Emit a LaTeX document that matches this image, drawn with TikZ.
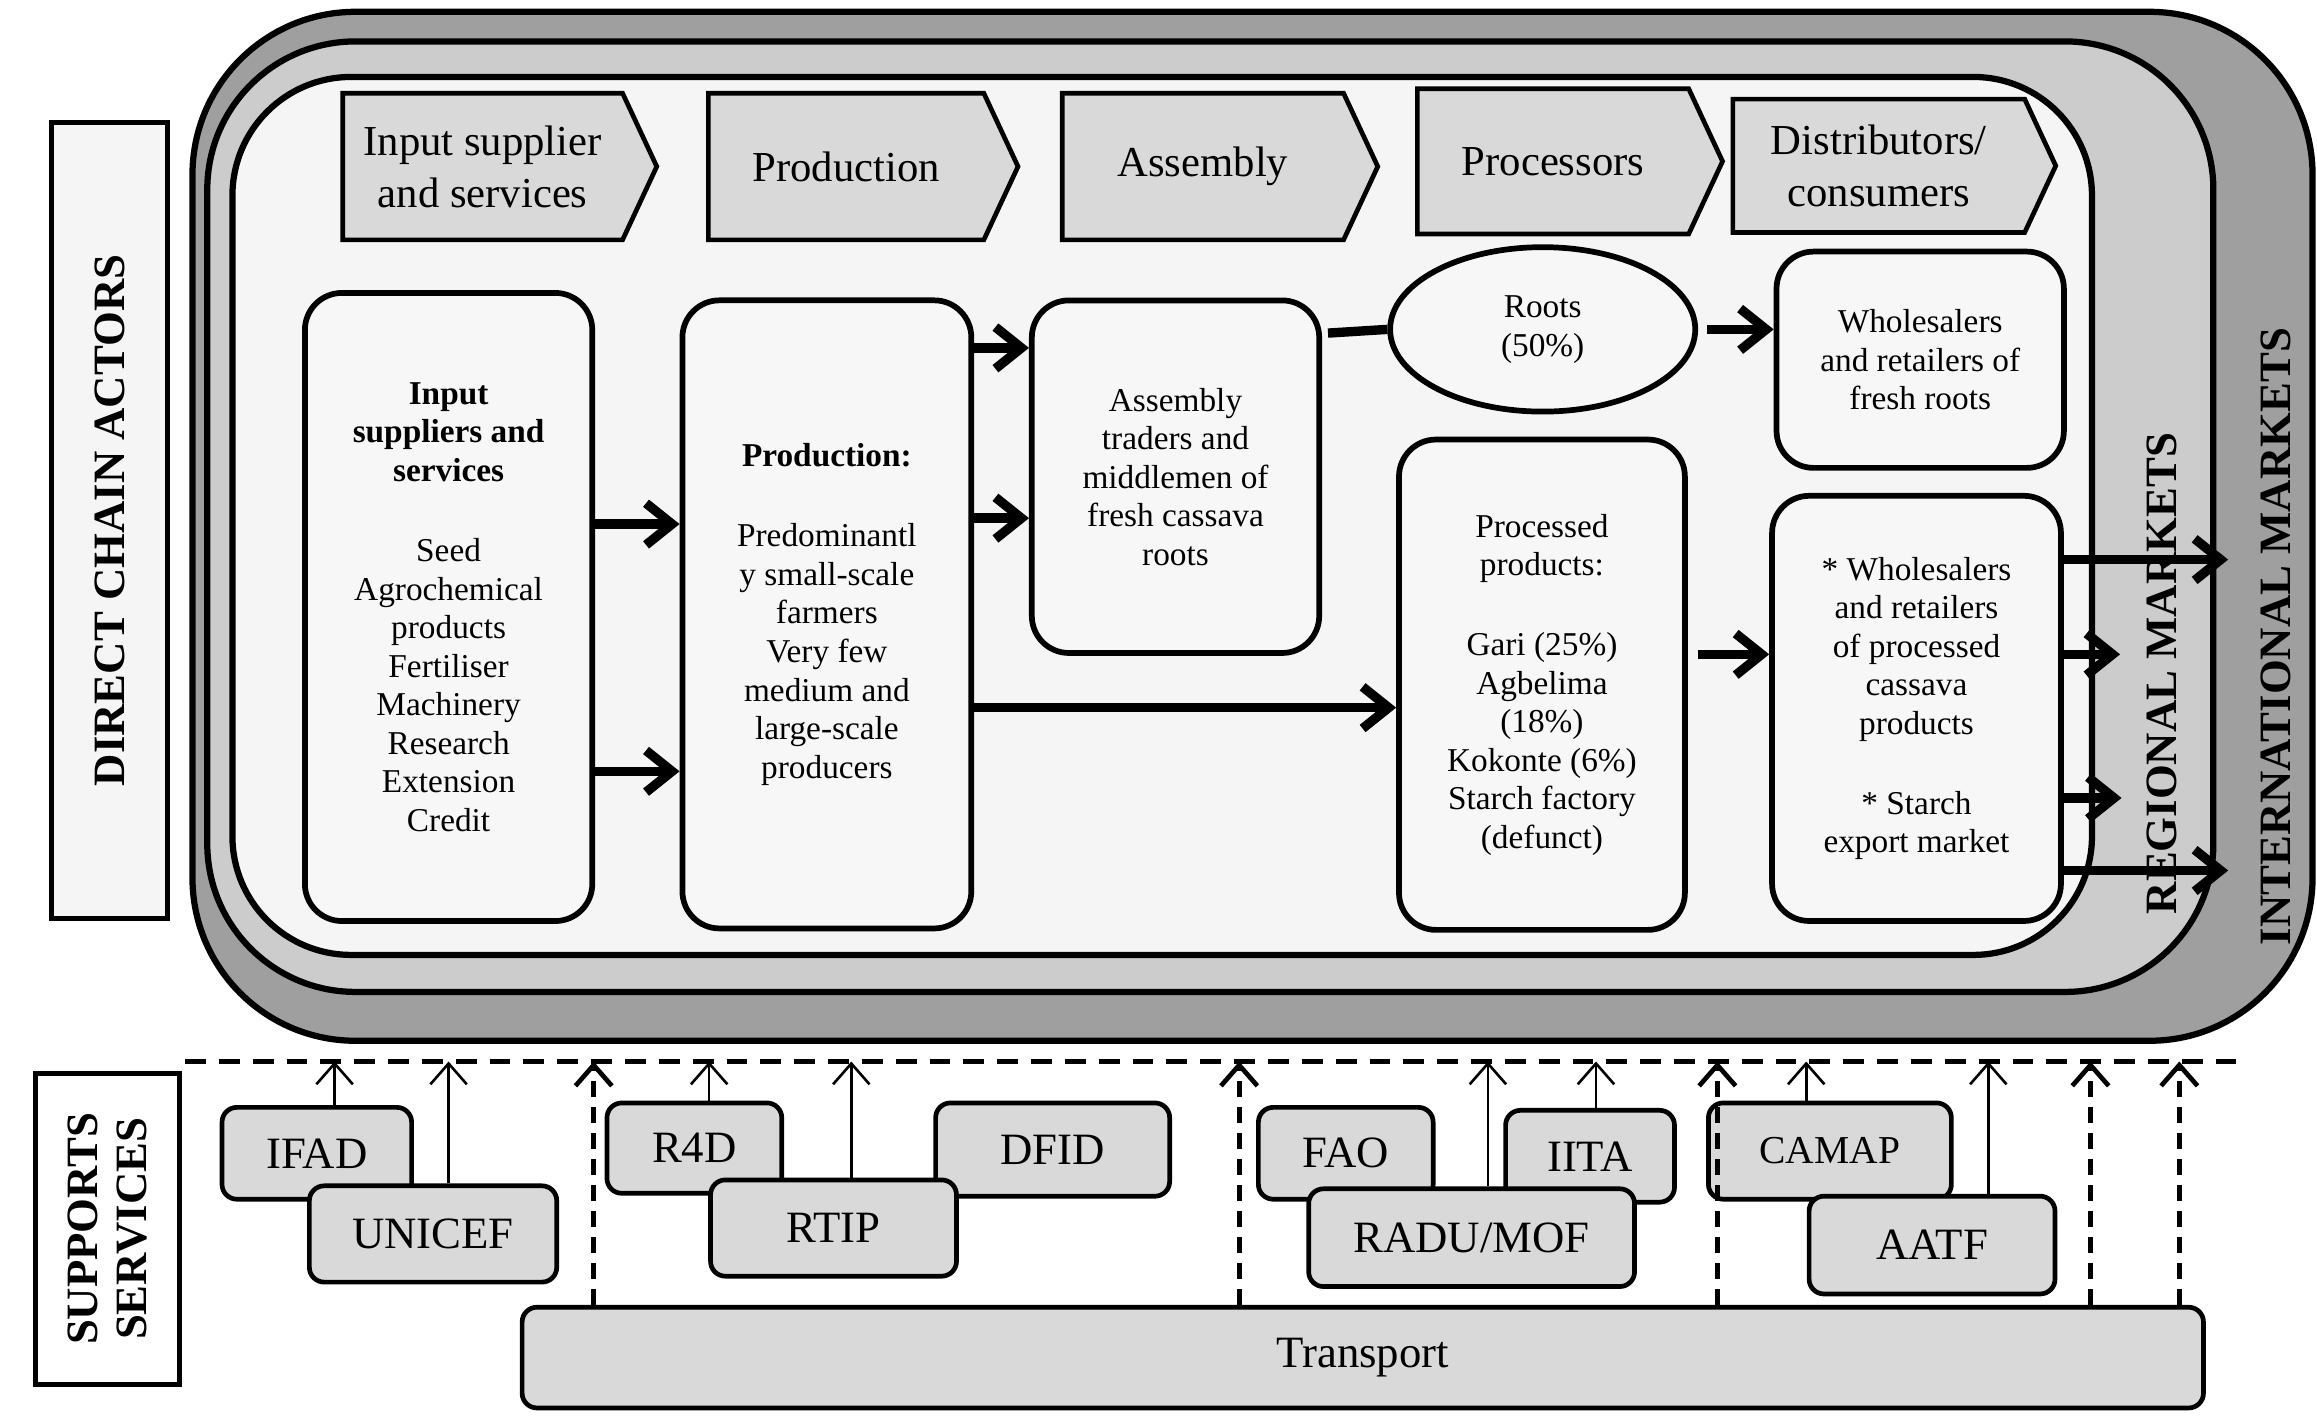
\documentclass[tikz,border=0pt]{standalone}
\usepackage{fontspec}
\setmainfont{Liberation Serif}
\usetikzlibrary{shapes.symbols,shapes.geometric,arrows.meta}
\begin{document}
\begin{tikzpicture}[x=0.01cm,y=-0.01cm,
  box/.style={draw,line width=1.1pt,rounded corners=0.25cm,fill=gray!6,align=center,font=\fontsize{6.4}{7.4}\selectfont,inner sep=1pt},
  chev/.style={draw,line width=0.9pt,signal,signal to=east,signal pointer angle=130,fill=gray!30,align=center,font=\fontsize{8.2}{10}\selectfont,inner sep=1pt},
  sbox/.style={draw,line width=0.9pt,rounded corners=0.1cm,fill=gray!30,font=\fontsize{8.6}{10}\selectfont},
  flow/.style={-{Straight Barb[length=5pt,width=8pt]},line width=1.8pt},
  sup/.style={-{Straight Barb[length=4pt,width=7pt]},line width=0.5pt},
  dsup/.style={-{Straight Barb[length=4pt,width=7pt]},line width=0.9pt,dash pattern=on 3pt off 2pt},
  vlab/.style={rotate=90,font=\bfseries\fontsize{8.6}{9.5}\selectfont,align=center}]
\useasboundingbox (0,0) rectangle (1565,962);
% market layers
\draw[line width=1.2pt,fill=gray!75,rounded corners=1.1cm] (130,8) rectangle (1562,703);
\draw[line width=1.2pt,fill=gray!40,rounded corners=1cm] (140,28) rectangle (1495,670);
\draw[line width=1.2pt,fill=gray!8,rounded corners=0.8cm] (157,52) rectangle (1413,645);
\node[draw,line width=1pt,fill=gray!8,minimum width=0.78cm,minimum height=5.37cm] (dca) at (74,351.5) {};
\node[vlab] at (dca) {DIRECT CHAIN ACTORS};
\node[vlab] (reg) at (1460,455) {REGIONAL MARKETS};
\node[vlab] (int) at (1537,430) {INTERNATIONAL MARKETS};
% stages
\node[chev,minimum width=2.12cm,minimum height=0.99cm] (c1) at (326,112.5) {Input supplier\\and services};
\node[chev,minimum width=2.09cm,minimum height=0.99cm] (c2) at (571.5,112.5) {Production};
\node[chev,minimum width=2.13cm,minimum height=0.99cm] (c3) at (812.5,112.5) {Assembly};
\node[chev,minimum width=2.06cm,minimum height=0.98cm] (c4) at (1049,109) {Processors};
\node[chev,minimum width=2.18cm,minimum height=0.9cm] (c5) at (1269,112) {Distributors/\\consumers};
% actors
\node[box,minimum width=1.94cm,minimum height=4.24cm] (A) at (303,410) {\textbf{Input}\\\textbf{suppliers and}\\\textbf{services}\\[8pt]Seed\\Agrochemical\\products\\Fertiliser\\Machinery\\Research\\Extension\\Credit};
\node[box,minimum width=1.95cm,minimum height=4.24cm] (B) at (558.5,415) {\textbf{Production:}\\[8pt]Predominantl\\y small-scale\\farmers\\Very few\\medium and\\large-scale\\producers};
\node[box,minimum width=1.94cm,minimum height=2.38cm] (C) at (794,322) {Assembly\\traders and\\middlemen of\\fresh cassava\\roots};
\node[draw,ellipse,line width=1.1pt,fill=gray!6,minimum width=2.06cm,minimum height=1.11cm,align=center,font=\fontsize{6.4}{7.4}\selectfont] (D) at (1042,222.5) {Roots\\(50\%)};
\node[box,minimum width=1.94cm,minimum height=1.46cm] (E) at (1297,243) {Wholesalers\\and retailers of\\fresh roots};
\node[box,minimum width=1.93cm,minimum height=3.31cm] (F) at (1041.5,462.5) {Processed\\products:\\[8pt]Gari (25\%)\\Agbelima\\(18\%)\\Kokonte (6\%)\\Starch factory\\(defunct)};
\node[box,minimum width=1.95cm,minimum height=2.87cm] (G) at (1294.5,478.5) {* Wholesalers\\and retailers\\of processed\\cassava\\products\\[8pt]* Starch\\export market};
% flows
\draw[flow] (A.east |- 0,354) -- (B.west |- 0,354);
\draw[flow] (A.east |- 0,521) -- (B.west |- 0,521);
\draw[flow] (B.east |- 0,235) -- (C.west |- 0,235);
\draw[flow] (B.east |- 0,350) -- (C.west |- 0,350);
\draw[flow] (B.east |- 0,478) -- (F.west |- 0,478);
\draw[line width=1.8pt] (897,225) -- (D.west);
\draw[flow] (D.east) ++(6,0) -- (E.west |- D.east);
\draw[flow] (1147,442) -- (G.west |- 0,442);
\coordinate (m1) at (1505,378); \coordinate (m2) at (1432,442);
\coordinate (m3) at (1433,539); \coordinate (m4) at (1505,588);
\draw[flow] (G.east |- m1) -- (m1);
\draw[flow] (G.east |- m2) -- (m2);
\draw[flow] (G.east |- m3) -- (m3);
\draw[flow] (G.east |- m4) -- (m4);
% support services
\coordinate (dl) at (125,717); \coordinate (dr) at (1515,717);
\draw[line width=1.1pt,dash pattern=on 4pt off 2.5pt] (dl) -- (dr);
\node[draw,line width=1pt,fill=white,minimum width=0.97cm,minimum height=2.1cm] (ss) at (72.5,830) {};
\node[vlab] at (ss) {SUPPORTS\\SERVICES};
\node[sbox,minimum width=1.28cm,minimum height=0.62cm] (IFAD) at (214,779) {IFAD};
\node[sbox,minimum width=1.67cm,minimum height=0.65cm] (UNICEF) at (292.5,833.5) {UNICEF};
\node[sbox,minimum width=1.18cm,minimum height=0.61cm] (R4D) at (469,775.5) {R4D};
\node[sbox,minimum width=1.58cm,minimum height=0.63cm] (DFID) at (711,776.5) {DFID};
\node[sbox,minimum width=1.66cm,minimum height=0.65cm] (RTIP) at (563,829.5) {RTIP};
\node[sbox,minimum width=1.18cm,minimum height=0.62cm] (FAO) at (909,779) {FAO};
\node[sbox,minimum width=1.14cm,minimum height=0.62cm] (IITA) at (1074,781) {IITA};
\node[sbox,minimum width=2.2cm,minimum height=0.66cm] (RADU) at (994,836) {RADU/MOF};
\node[sbox,minimum width=1.64cm,minimum height=0.65cm] (CAMAP) at (1236,777.5) {\fontsize{7.6}{9}\selectfont CAMAP};
\node[sbox,minimum width=1.66cm,minimum height=0.66cm] (AATF) at (1305,841) {AATF};
\node[sbox,minimum width=11.35cm,minimum height=0.68cm] (Tr) at (920.5,917) {Transport};
\draw[sup] (IFAD.north -| 226,0) -- (dl -| 226,0);
\draw[sup] (UNICEF.north -| 303,0) -- (dl -| 303,0);
\draw[sup] (R4D.north -| 479,0) -- (dl -| 479,0);
\draw[sup] (RTIP.north -| 575,0) -- (dl -| 575,0);
\draw[sup] (RADU.north -| 1005,0) -- (dl -| 1005,0);
\draw[sup] (IITA.north -| 1078,0) -- (dl -| 1078,0);
\draw[sup] (CAMAP.north -| 1220,0) -- (dl -| 1220,0);
\draw[sup] (AATF.north -| 1343,0) -- (dl -| 1343,0);
\foreach \x in {401,837,1160,1412,1472}
  \draw[dsup] (Tr.north -| \x,0) -- (dl -| \x,0);
\end{tikzpicture}
\end{document}
